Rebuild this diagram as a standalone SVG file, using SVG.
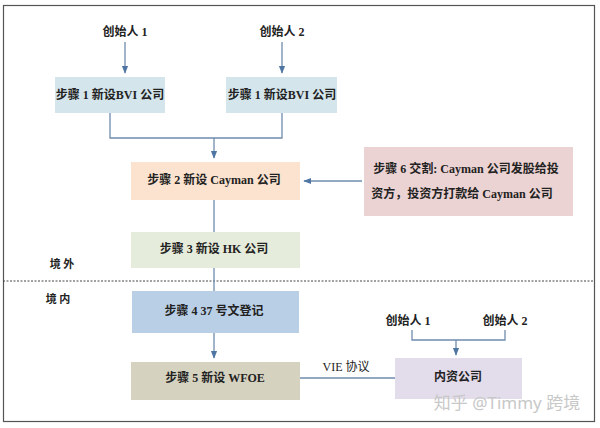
<svg xmlns="http://www.w3.org/2000/svg" width="600" height="428" viewBox="0 0 600 428">
<style>
text{font-family:"Liberation Serif","Noto Sans CJK SC",serif;font-size:12px;font-weight:bold;fill:#222;text-anchor:middle;dominant-baseline:central}
.ln{stroke:#6f8cae;stroke-width:1.3;fill:none}
.wm{font-family:"Noto Sans","Noto Sans CJK SC",sans-serif;font-weight:normal;font-size:17px;fill:#c8c8c8}
</style>
<defs><marker id="a" viewBox="0 0 10 10" refX="9" refY="5" markerWidth="6" markerHeight="6" orient="auto"><path d="M0,1L10,5L0,9z" fill="#4f76a3"/></marker></defs>
<rect x="0" y="0" width="600" height="428" fill="#fff"/>
<rect x="3.5" y="5.5" width="591" height="416" fill="none" stroke="#555" stroke-width="1.2"/>
<line x1="3" y1="281" x2="595" y2="281" stroke="#444" stroke-dasharray="2,1.5" stroke-width="1"/>
<text x="62" y="264" style="font-size:11px">境 外</text>
<text x="58" y="299" style="font-size:11px">境 内</text>
<g id="connectors">
<path class="ln" d="M125,42V73" marker-end="url(#a)"/>
<path class="ln" d="M282,42V73" marker-end="url(#a)"/>
<path class="ln" d="M110,113V138H282V113"/>
<path class="ln" d="M214,138V158" marker-end="url(#a)"/>
<path class="ln" d="M362,181H304" marker-end="url(#a)"/>
<path class="ln" d="M214,200V232"/>
<path class="ln" d="M214,268V291"/>
<path class="ln" d="M214,333V358" marker-end="url(#a)"/>
<path class="ln" d="M300,378H395"/>
<path class="ln" d="M412,330V340H505V330"/>
<path class="ln" d="M456,340V355" marker-end="url(#a)"/>
<text x="346" y="367" style="font-weight:normal">VIE 协议</text>
</g>
<g id="f1"><text x="125" y="32">创始人 1</text></g>
<g id="f2"><text x="282" y="32">创始人 2</text></g>
<g id="bvi1"><rect x="55" y="77" width="110" height="36" fill="#d4e6ec"/><text x="110" y="95">步骤 1 新设BVI 公司</text></g>
<g id="bvi2"><rect x="226" y="77" width="111" height="36" fill="#d4e6ec"/><text x="282" y="95">步骤 1 新设BVI 公司</text></g>
<g id="s2"><rect x="131" y="162" width="169" height="38" fill="#fbe3d0"/><text x="214" y="180">步骤 2 新设 Cayman 公司</text></g>
<g id="s6"><rect x="364" y="147" width="209" height="69" fill="#ecd3d3"/><text x="466" y="169">步骤 6 交割: Cayman 公司发股给投</text><text x="462" y="194">资方，投资方打款给 Cayman 公司</text></g>
<g id="s3"><rect x="131" y="232" width="169" height="36" fill="#e6ecdb"/><text x="214" y="249">步骤 3 新设 HK 公司</text></g>
<g id="s4"><rect x="132" y="291" width="167" height="42" fill="#b9cfe6"/><text x="214" y="311">步骤 4 37 号文登记</text></g>
<g id="s5"><rect x="131" y="362" width="169" height="38" fill="#d6d2c0"/><text x="215" y="378">步骤 5 新设 WFOE</text></g>
<g id="n"><rect x="395" y="358" width="127" height="41" fill="#e3dcea"/><text x="458" y="377">内资公司</text></g>
<g id="f3"><text x="408" y="321">创始人 1</text></g>
<g id="f4"><text x="505" y="321">创始人 2</text></g>
<text x="507" y="402" class="wm">知乎 @Timmy 跨境</text>
</svg>
